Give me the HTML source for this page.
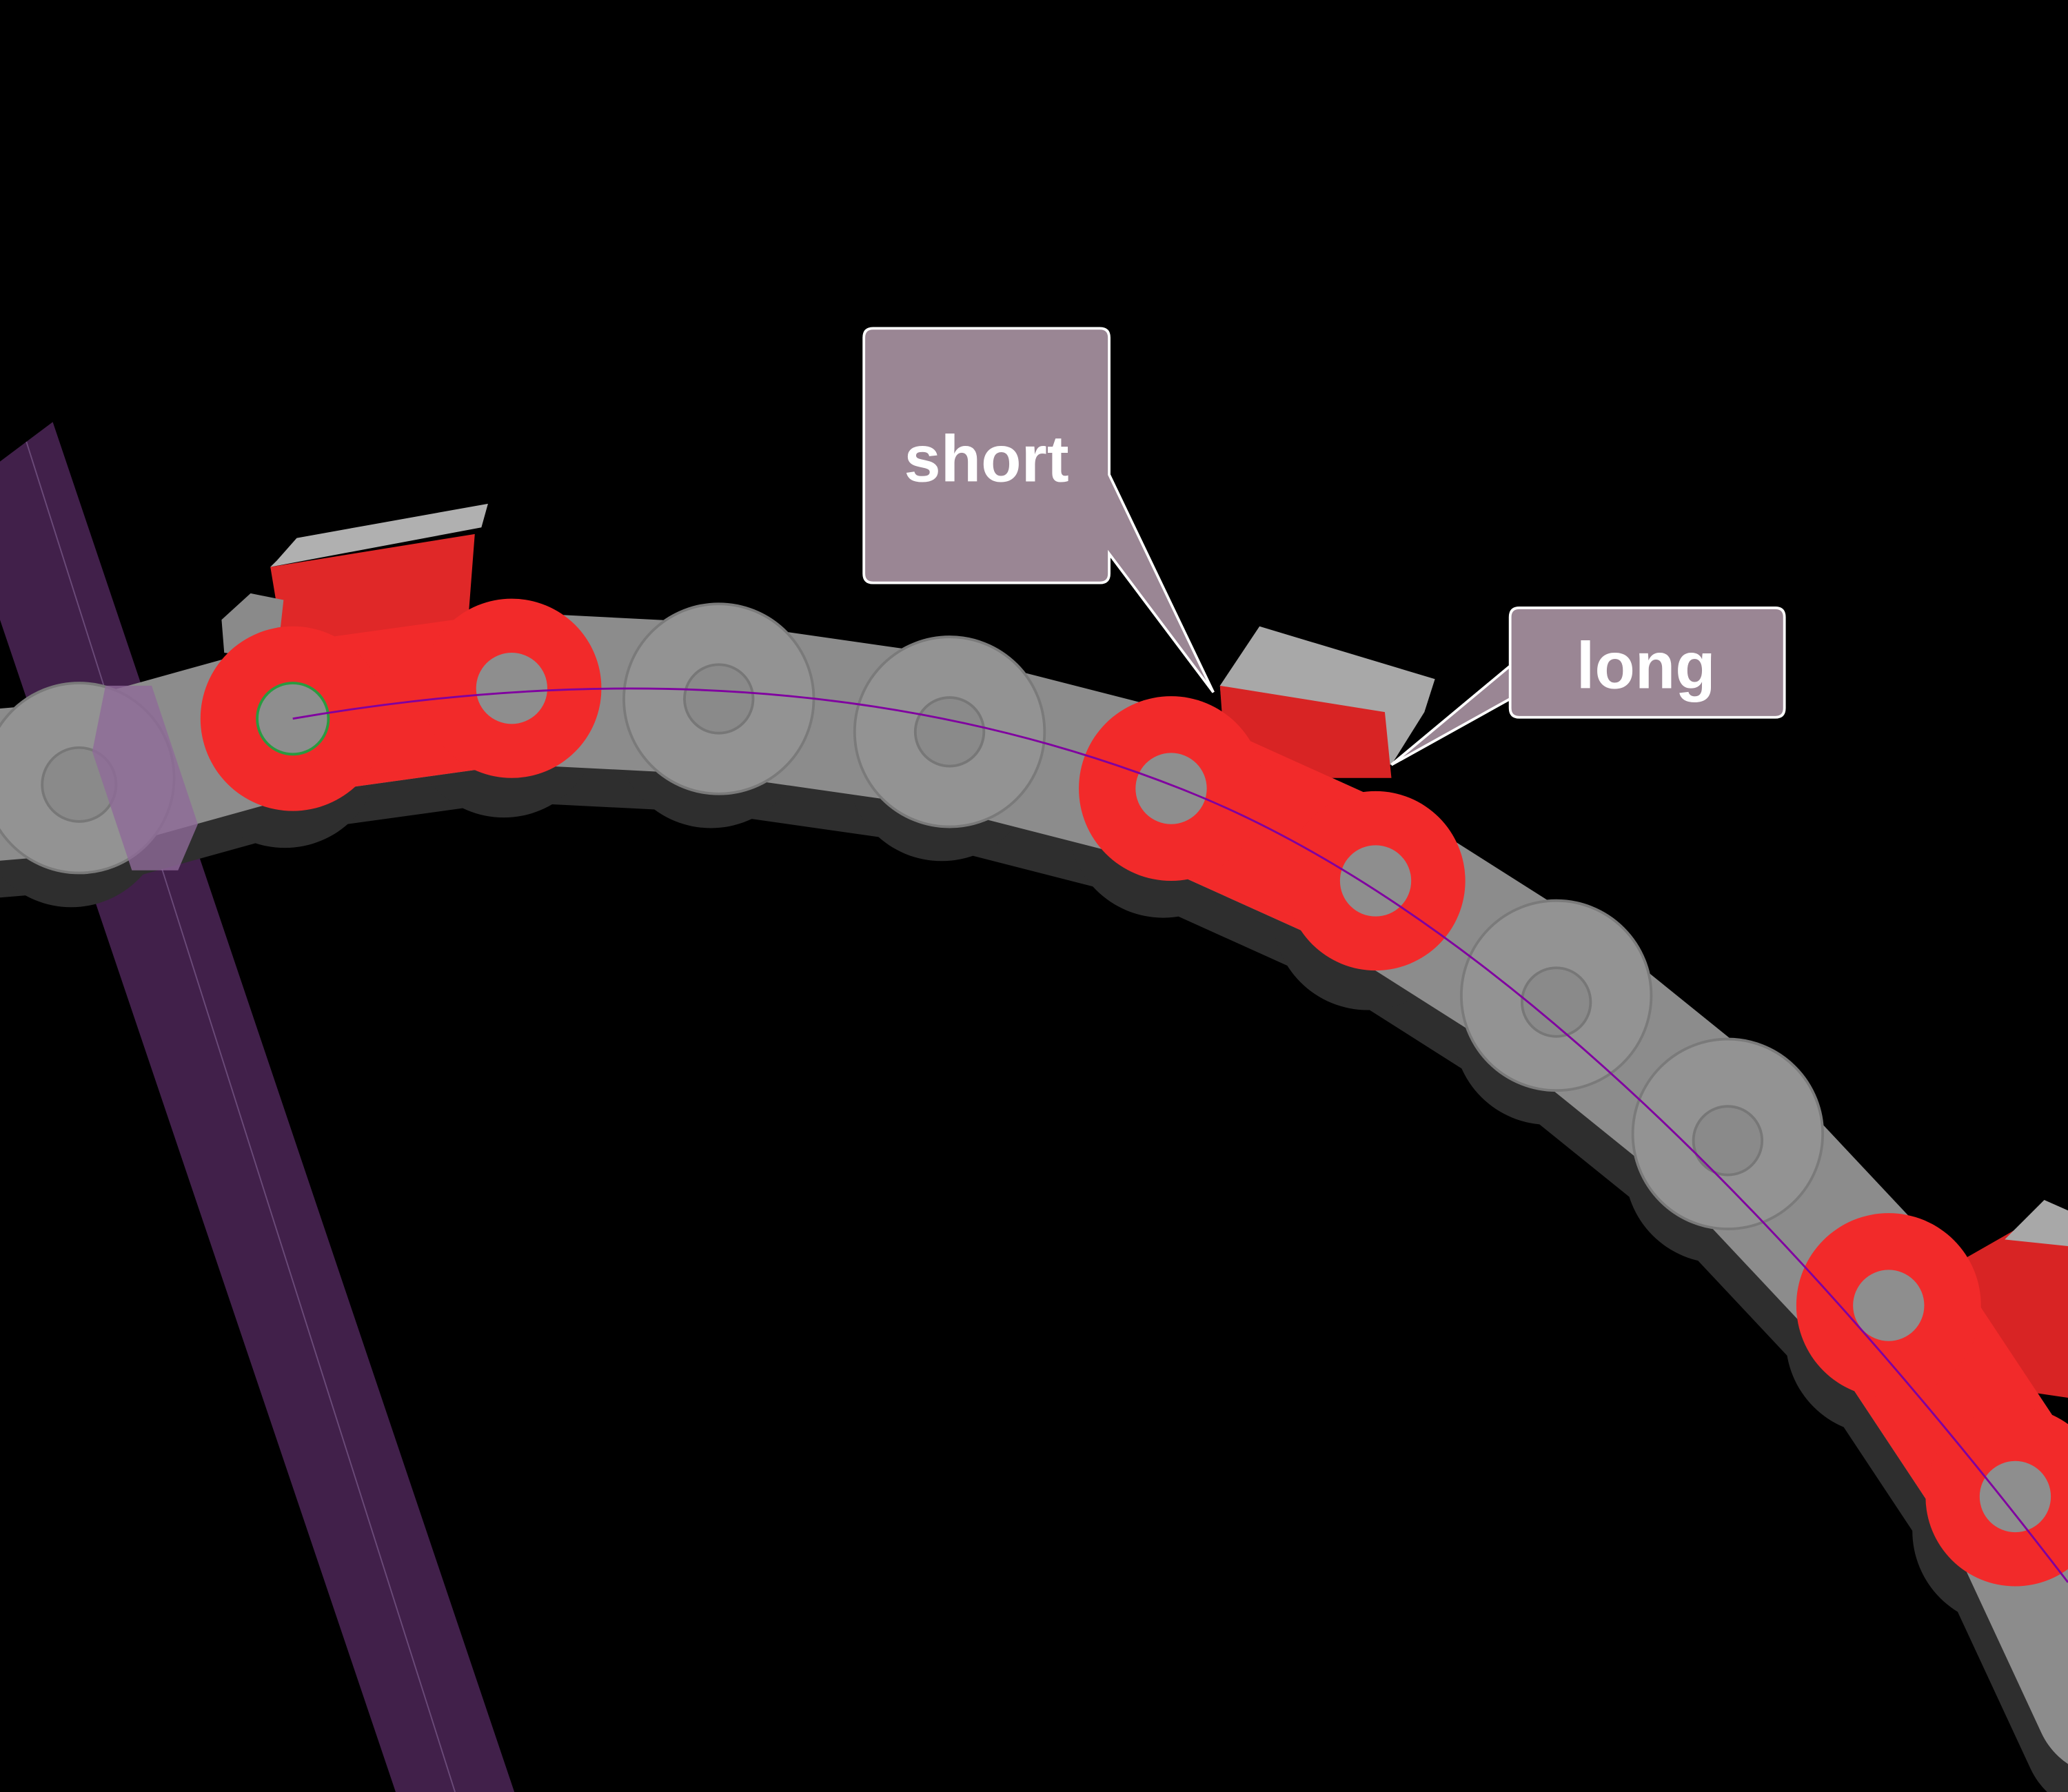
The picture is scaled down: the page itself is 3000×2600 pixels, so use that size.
<!DOCTYPE html>
<html><head><style>html,body{margin:0;padding:0;background:#000;width:3000px;height:2600px;overflow:hidden}svg{display:block}</style></head>
<body>
<svg width="3000" height="2600" viewBox="0 0 1568 1359" preserveAspectRatio="none" xmlns="http://www.w3.org/2000/svg">
<rect width="1568" height="1359" fill="#000"/>
<polygon points="0,350 40,320 390,1359 300,1359 0,470" fill="#41204a"/>
<line x1="20" y1="335" x2="345" y2="1359" stroke="#6a4a78" stroke-width="1"/>
<g transform="translate(-6,26)">
<polyline points="-60,600 60,590 222,545 388,522 545,530 720,555 888,598 1043,668 1180,755 1310,860 1432,990 1528,1135 1600,1290" stroke="#2e2e2e" stroke-width="120" stroke-linejoin="round" stroke-linecap="round" fill="none"/>
<g fill="#2e2e2e"><circle cx="60" cy="590" r="72"/><circle cx="545" cy="530" r="72"/><circle cx="720" cy="555" r="72"/><circle cx="1180" cy="755" r="72"/><circle cx="1310" cy="860" r="72"/><circle cx="222" cy="545" r="72"/><circle cx="888" cy="598" r="72"/><circle cx="1043" cy="668" r="72"/><circle cx="1432" cy="990" r="72"/><circle cx="1528" cy="1135" r="72"/><circle cx="388" cy="522" r="72"/></g>
</g>
<polyline points="-60,600 60,590 222,545 388,522 545,530 720,555 888,598 1043,668 1180,755 1310,860 1432,990 1528,1135 1600,1290" stroke="#8c8c8c" stroke-width="115" stroke-linejoin="round" stroke-linecap="round" fill="none"/>
<g fill="#939393" stroke="#7a7a7a" stroke-width="2">
<circle cx="60" cy="590" r="72"/><circle cx="545" cy="530" r="72"/><circle cx="720" cy="555" r="72"/><circle cx="1180" cy="755" r="72"/><circle cx="1310" cy="860" r="72"/>
</g>
<g fill="#8a8a8a" stroke="#777" stroke-width="2">
<circle cx="60" cy="595" r="28"/><circle cx="545" cy="530" r="26"/><circle cx="720" cy="555" r="26"/><circle cx="1180" cy="760" r="26"/><circle cx="1310" cy="865" r="26"/>
</g>
<polygon points="80,520 115,520 150,625 135,660 100,660 70,570" fill="#8e6a98" opacity="0.8"/>
<polygon points="205,430 365,400 370,382 225,408 210,425" fill="#b0b0b0"/>
<polygon points="205,430 360,405 355,470 215,490" fill="#e02828"/>
<polygon points="168,470 190,450 215,455 210,500 170,495" fill="#8a8a8a"/>
<polygon points="925,520 955,475 1088,515 1080,540 1055,580 930,575" fill="#a8a8a8"/>
<polygon points="925,520 1050,540 1055,590 930,590" fill="#d82424"/>
<polygon points="1480,960 1550,920 1568,930 1568,1060 1500,1050" fill="#d82424"/>
<polygon points="1520,940 1550,910 1568,918 1568,945" fill="#a8a8a8"/>
<g stroke="#f22a2a" stroke-linecap="round" fill="none" stroke-width="115">
<line x1="222" y1="545" x2="388" y2="522"/>
<line x1="888" y1="598" x2="1043" y2="668"/>
<line x1="1432" y1="990" x2="1528" y2="1135"/>
</g>
<g fill="#f22a2a">
<circle cx="222" cy="545" r="70"/><circle cx="388" cy="522" r="68"/>
<circle cx="888" cy="598" r="70"/><circle cx="1043" cy="668" r="68"/>
<circle cx="1432" cy="990" r="70"/><circle cx="1528" cy="1135" r="68"/>
</g>
<g fill="#8e8e8e">
<circle cx="222" cy="545" r="27"/><circle cx="388" cy="522" r="27"/>
<circle cx="888" cy="598" r="27"/><circle cx="1043" cy="668" r="27"/>
<circle cx="1432" cy="990" r="27"/><circle cx="1528" cy="1135" r="27"/>
</g>
<circle cx="222" cy="545" r="27" fill="none" stroke="#2a9a40" stroke-width="2"/>
<path d="M222,545 Q600,480 900,600 T1568,1200" fill="none" stroke="#8000a0" stroke-width="1.5"/>
<path d="M662,249 H834 Q841,249 841,256 V360 L920,525 L841,420 V435 Q841,442 834,442 H662 Q655,442 655,435 V256 Q655,249 662,249 Z" fill="#9a8694" stroke="#fff" stroke-width="2"/>
<text x="748" y="365" font-family="Liberation Sans, sans-serif" font-weight="bold" font-size="50" fill="#fff" text-anchor="middle">short</text>
<path d="M1152,461 H1346 Q1353,461 1353,468 V537 Q1353,544 1346,544 H1152 Q1145,544 1145,537 V505 L1055,580 L1145,530 V468 Q1145,461 1152,461 Z" fill="#9a8694" stroke="#fff" stroke-width="2"/>
<text x="1248" y="522" font-family="Liberation Sans, sans-serif" font-weight="bold" font-size="50" fill="#fff" text-anchor="middle">long</text>
</svg>
</body></html>
